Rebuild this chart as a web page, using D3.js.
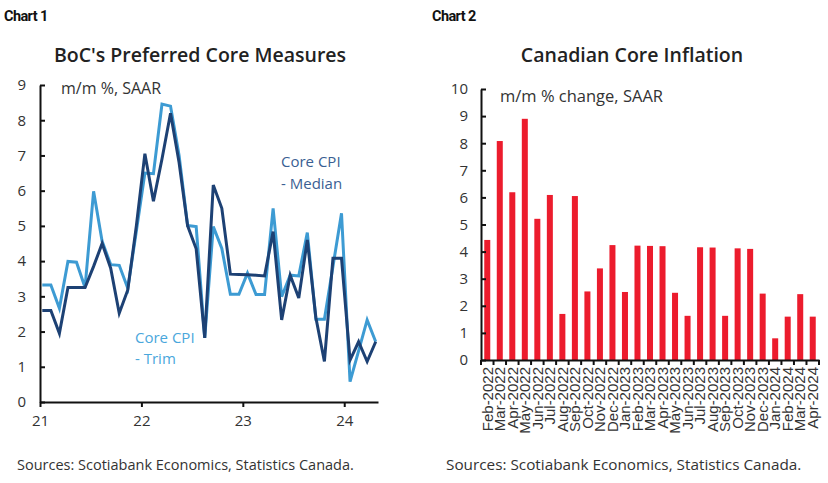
<!DOCTYPE html>
<html>
<head>
<meta charset="utf-8">
<script src="https://cdn.jsdelivr.net/npm/d3@7"></script>
<style>
  body { margin: 0; background: #fff; }
  svg text { font-family: "Open Sans", "Noto Sans", sans-serif; }
</style>
</head>
<body>
<div id="chart"></div>
<script>
// chart 1 data, monthly Jan 2021 - Apr 2024
var months1 = [];
for (var yr = 2021; yr <= 2024; yr++) {
  for (var m = 0; m < 12; m++) {
    if (yr === 2024 && m > 3) break;
    months1.push(yr + '-' + (m + 1));
  }
}
var medianValues = [2.6, 2.6, 1.95, 3.25, 3.25, 3.25, 3.85, 4.5, 3.8, 2.52, 3.18, 5.0,
  7.05, 5.7, 6.9, 8.2, 6.8, 5.0, 4.35, 1.82, 6.16, 5.5, 3.63, 3.62,
  3.61, 3.6, 3.58, 4.84, 2.33, 3.6, 2.95, 4.6, 2.4, 1.15, 4.08, 4.08,
  1.19, 1.71, 1.15, 1.71];
var trimValues = [3.32, 3.32, 2.66, 3.99, 3.97, 3.25, 5.98, 4.56, 3.9, 3.88, 3.23, 4.85,
  6.5, 6.48, 8.46, 8.4, 7.0, 5.01, 4.98, 1.82, 4.98, 4.36, 3.06, 3.06,
  3.66, 3.05, 3.05, 5.5, 2.99, 3.6, 3.58, 4.81, 2.35, 2.35, 3.85, 5.36,
  0.58, 1.45, 2.33, 1.71];
var yearTicks = [21, 22, 23, 24];

// chart 2 data
var months2 = ['Feb-2022', 'Mar-2022', 'Apr-2022', 'May-2022', 'Jun-2022', 'Jul-2022', 'Aug-2022',
  'Sep-2022', 'Oct-2022', 'Nov-2022', 'Dec-2022', 'Jan-2023', 'Feb-2023', 'Mar-2023', 'Apr-2023',
  'May-2023', 'Jun-2023', 'Jul-2023', 'Aug-2023', 'Sep-2023', 'Oct-2023', 'Nov-2023', 'Dec-2023',
  'Jan-2024', 'Feb-2024', 'Mar-2024', 'Apr-2024'];
var coreValues = [4.43, 8.08, 6.19, 8.9, 5.21, 6.09, 1.7, 6.05, 2.53, 3.38, 4.24, 2.51, 4.22,
  4.21, 4.2, 2.48, 1.63, 4.16, 4.15, 1.63, 4.12, 4.1, 2.45, 0.8, 1.6, 2.43, 1.6];

var darkBlue = '#1d4174', lightBlue = '#3d9bd3', red = '#ec1c2d', ink = '#333';

var svg = d3.select('#chart').append('svg')
  .attr('width', 828)
  .attr('height', 483);

svg.append('text').attr('x', 4).attr('y', 21)
  .style('font-family', 'Roboto, sans-serif')
  .style('font-weight', 'bold').style('font-size', '14.5px').style('letter-spacing', '-0.6px')
  .attr('fill', '#111')
  .text('Chart 1');
svg.append('text').attr('x', 432).attr('y', 21)
  .style('font-family', 'Roboto, sans-serif')
  .style('font-weight', 'bold').style('font-size', '14.5px').style('letter-spacing', '-0.6px')
  .attr('fill', '#111')
  .text('Chart 2');

// ---------- chart 1 ----------
var g1 = svg.append('g');

g1.append('text').attr('x', 200).attr('y', 62)
  .attr('text-anchor', 'middle')
  .style('font-weight', '600').style('font-size', '19.5px').attr('fill', '#222')
  .text("BoC's Preferred Core Measures");

var y1 = d3.scaleLinear().domain([0, 9]).range([402, 85]);
var xYear = d3.scaleLinear().domain([21, 24.333]).range([40, 378]);
var x1 = d3.scalePoint().domain(months1).range([42.3, 375.7]);

g1.append('g')
  .attr('transform', 'translate(40,0)')
  .call(d3.axisLeft(y1).ticks(9).tickSizeInner(-5).tickSizeOuter(0).tickPadding(14))
  .call(function(a) {
    a.select('.domain').attr('stroke', '#111').attr('stroke-width', 2);
    a.selectAll('line').attr('stroke', '#111').attr('stroke-width', 2);
    a.selectAll('text').style('font-size', '15px').attr('fill', ink);
  });

g1.append('g')
  .attr('transform', 'translate(0,402)')
  .call(d3.axisBottom(xYear).tickValues(yearTicks).tickFormat(d3.format('d'))
    .tickSizeInner(5).tickSizeOuter(0).tickPadding(8))
  .call(function(a) {
    a.select('.domain').attr('stroke', '#111').attr('stroke-width', 2);
    a.selectAll('line').attr('stroke', '#111').attr('stroke-width', 2);
    a.selectAll('text').style('font-size', '15px').attr('fill', ink);
  });

g1.append('text').attr('x', 61).attr('y', 94)
  .style('font-size', '16px').attr('fill', ink)
  .text('m/m %, SAAR');

var line1 = function(vals) {
  return d3.line()
    .x(function(d, i) { return x1(months1[i]); })
    .y(function(d) { return y1(d); })(vals);
};

g1.append('path')
  .attr('d', line1(trimValues))
  .attr('fill', 'none')
  .attr('stroke', lightBlue)
  .attr('stroke-width', 3)
  .attr('stroke-linejoin', 'miter');

g1.append('path')
  .attr('d', line1(medianValues))
  .attr('fill', 'none')
  .attr('stroke', darkBlue)
  .attr('stroke-width', 3)
  .attr('stroke-linejoin', 'miter');

g1.append('text').attr('x', 281).attr('y', 167)
  .style('font-size', '15px').attr('fill', '#3a5f93').text('Core CPI');
g1.append('text').attr('x', 281).attr('y', 189)
  .style('font-size', '15px').attr('fill', '#3a5f93').text('- Median');
g1.append('text').attr('x', 135).attr('y', 343)
  .style('font-size', '15px').attr('fill', '#4aa7dc').text('Core CPI');
g1.append('text').attr('x', 135).attr('y', 364)
  .style('font-size', '15px').attr('fill', '#4aa7dc').text('- Trim');

g1.append('text').attr('x', 17).attr('y', 470)
  .style('font-size', '14.5px').attr('fill', ink)
  .text('Sources: Scotiabank Economics, Statistics Canada.');

// ---------- chart 2 ----------
var g2 = svg.append('g');

g2.append('text').attr('x', 632).attr('y', 62)
  .attr('text-anchor', 'middle')
  .style('font-weight', '600').style('font-size', '19.5px').attr('fill', '#222')
  .text('Canadian Core Inflation');

var y2 = d3.scaleLinear().domain([0, 10]).range([360, 89]);
var x2 = d3.scaleBand().domain(months2).range([481, 819]).paddingInner(0.52).paddingOuter(0.26);

g2.selectAll('rect.bar')
  .data(coreValues)
  .enter()
  .append('rect')
  .attr('class', 'bar')
  .attr('x', function(d, i) { return x2(months2[i]); })
  .attr('y', function(d) { return y2(d); })
  .attr('width', x2.bandwidth())
  .attr('height', function(d) { return y2(0) - y2(d); })
  .attr('fill', red);

g2.append('g')
  .attr('transform', 'translate(481,0)')
  .call(d3.axisLeft(y2).ticks(10).tickSizeInner(-5).tickSizeOuter(0).tickPadding(13))
  .call(function(a) {
    a.select('.domain').attr('stroke', '#111').attr('stroke-width', 2);
    a.selectAll('line').attr('stroke', '#111').attr('stroke-width', 2);
    a.selectAll('text').style('font-size', '15px').attr('fill', ink);
  });

var xAxis2 = g2.append('g')
  .attr('transform', 'translate(0,360)');
xAxis2.call(d3.axisBottom(x2).tickSize(0).tickPadding(6))
  .call(function(a) {
    a.select('.domain').attr('stroke', '#111').attr('stroke-width', 2);
    a.selectAll('text')
      .style('font-family', '"Liberation Sans", Arial, sans-serif')
      .style('font-size', '15px')
      .attr('fill', ink)
      .attr('text-anchor', 'end')
      .attr('dy', '0.35em')
      .attr('transform', 'translate(0,7)rotate(-90)')
      .attr('x', 0).attr('y', 0);
  });

// boundary ticks between categories
xAxis2.selectAll('line.boundary')
  .data(months2.concat(['end']))
  .enter()
  .append('line')
  .attr('class', 'boundary')
  .attr('x1', function(d, i) { return i < months2.length ? x2(d) - x2.step() * x2.paddingInner() / 2 : 819; })
  .attr('x2', function(d, i) { return i < months2.length ? x2(d) - x2.step() * x2.paddingInner() / 2 : 819; })
  .attr('y1', 0).attr('y2', 5)
  .attr('stroke', '#111').attr('stroke-width', 2);

g2.append('text').attr('x', 500).attr('y', 102)
  .style('font-size', '16.5px').attr('fill', ink)
  .text('m/m % change, SAAR');

g2.append('text').attr('x', 446).attr('y', 470)
  .style('font-size', '15.3px').attr('fill', ink)
  .text('Sources: Scotiabank Economics, Statistics Canada.');
</script>
</body>
</html>
